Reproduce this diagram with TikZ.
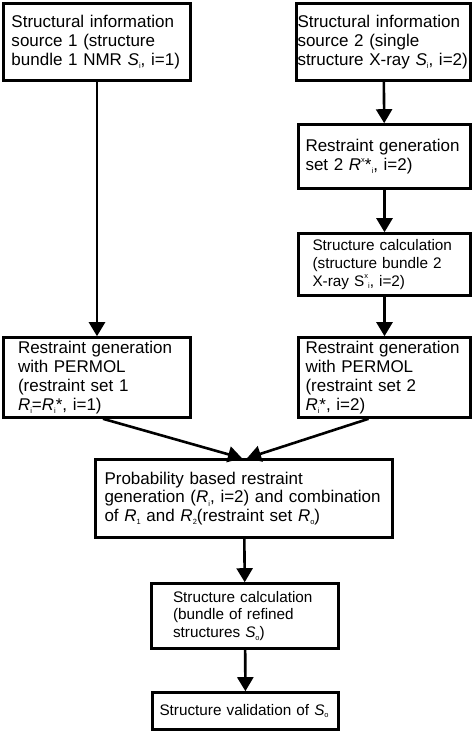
\documentclass[tikz,border=0pt]{standalone}
\usepackage{fontspec}
\setmainfont{Liberation Sans}
\usetikzlibrary{arrows.meta}
\newcommand\subtxt[1]{\raisebox{-0.35ex}{\fontsize{7.5}{7.5}\selectfont #1}}
\newcommand\suptxt[1]{\raisebox{0.9ex}{\fontsize{7.5}{7.5}\selectfont #1}}

\begin{document}
\begin{tikzpicture}[x=1pt, y=-1pt,
	box/.style={draw, line width=2.6pt, align=left, inner ysep=0pt, font=\fontsize{17pt}{18.8pt}\selectfont},
	smallbox/.style={box, font=\fontsize{15.3pt}{17.6pt}\selectfont},
	arr/.style={line width=2.6pt, -{Triangle[width=16pt, length=14pt]}}]
			%%%%% START %%%%%
			\useasboundingbox (0, 0) rectangle (474, 733);
			
			\node[box, minimum width=187pt, minimum height=77pt, text width=171pt, inner xsep=8pt] (src1) at (97, 42) {Structural information\\source 1 (structure\\bundle 1 NMR \textit{S}\subtxt{i}, i=1)};
			\node[box, minimum width=174pt, minimum height=77pt, text width=172pt, inner xsep=1pt] (src2) at (383.5, 42) {Structural information\\source 2 (single\\structure X-ray \textit{S}\subtxt{i}, i=2)};
			
			\node[box, minimum width=172pt, minimum height=64pt, text width=158pt, inner xsep=7pt] (gen2) at (384.5, 156.5) {Restraint generation\\set 2 \textit{R}\suptxt{x}*\subtxt{i}, i=2)};
			\node[smallbox, minimum width=172pt, minimum height=62pt, text width=144pt, inner xsep=14pt] (calc2) at (384.5, 264.5) {Structure calculation\\(structure bundle 2\\X-ray S\suptxt{x}\subtxt{i}, i=2)};
			
			\node[box, minimum width=187pt, minimum height=80pt, text width=158pt, inner xsep=14.5pt] (perm1) at (97, 377.5) {Restraint generation\\with PERMOL\\(restraint set 1\\\textit{R}\subtxt{i}=\textit{R}\subtxt{i}*, i=1)};
			\node[box, minimum width=172pt, minimum height=80pt, text width=158pt, inner xsep=7pt] (perm2) at (384.5, 377.5) {Restraint generation\\with PERMOL\\(restraint set 2\\\textit{R}\subtxt{i}*, i=2)};
			
			\node[box, minimum width=297pt, minimum height=78pt, text width=279pt, inner xsep=9pt] (comb) at (244, 498.5) {Probability based restraint\\generation (\textit{R}\subtxt{i}, i=2) and combination\\of \textit{R}\subtxt{1} and \textit{R}\subtxt{2}(restraint set \textit{R}\subtxt{o})};
			\node[smallbox, minimum width=187pt, minimum height=65pt, text width=144pt, inner xsep=21.5pt] (calc) at (245, 616) {Structure calculation\\(bundle of refined\\structures \textit{S}\subtxt{o})};
			\node[smallbox, minimum width=186pt, minimum height=37pt, text width=172pt, inner xsep=7pt] (valid) at (245.5, 711) {Structure validation of \textit{S}\subtxt{o}};
			
			\draw[arr] (src1) -- (perm1);
			\draw[arr] (src2) -- (gen2);
			\draw[arr] (gen2) -- (calc2);
			\draw[arr] (calc2) -- (perm2);
			
			\draw[arr] ([xshift=6pt]perm1.south) -- ([xshift=-2pt]comb.north);
			\draw[arr] ([xshift=-16pt]perm2.south) -- ([xshift=3pt]comb.north);
			
			\draw[arr] (comb) -- (calc);
			\draw[arr] (calc) -- (valid);
			%%%%% END %%%%%
		\end{tikzpicture}
\end{document}
